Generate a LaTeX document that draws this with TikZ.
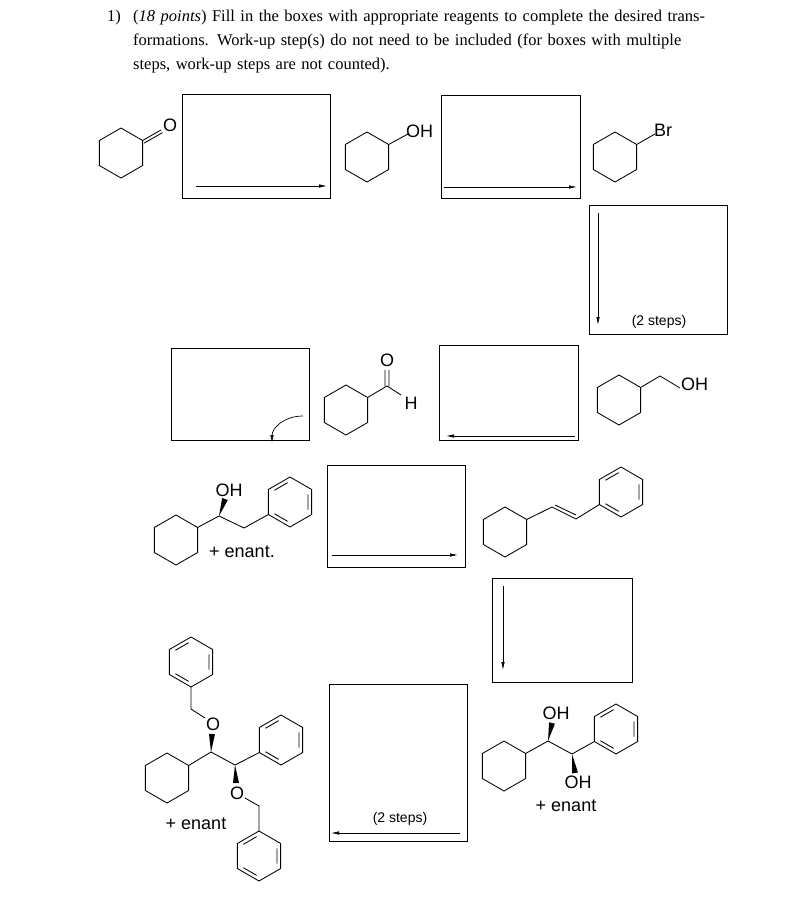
\documentclass[tikz,border=0pt]{standalone}
\usepackage{fontspec}
\setmainfont{Liberation Serif}
\newfontfamily\lsans{Liberation Sans}
\usetikzlibrary{calc,arrows.meta}
\newcommand{\hexring}[3]{\draw[bond] (#1,#2)+(90:#3)--+(150:#3)--+(210:#3)--+(270:#3)--+(330:#3)--+(30:#3)--cycle;}
\newcommand{\benzring}[3]{\hexring{#1}{#2}{#3}
 \draw[bond] (#1,#2)+(97:0.78*#3)--+(143:0.78*#3) (#1,#2)+(217:0.78*#3)--+(263:0.78*#3) (#1,#2)+(337:0.78*#3)--+(23:0.78*#3);}
\newcommand{\wdgbond}[2]{\fill (#1) -- ($(#2)!3pt!90:(#1)$) -- ($(#2)!3pt!-90:(#1)$) -- cycle;}
\begin{document}
\begin{tikzpicture}[x=1pt,y=-1pt,
 bond/.style={line width=0.85pt},
 box/.style={draw,line width=0.9pt},
 rxn/.style={line width=0.7pt,-{Latex[length=8pt,width=3.5pt]}},
 lab/.style={font=\lsans\fontsize{18}{18}\selectfont,inner sep=0pt},
 small/.style={font=\lsans\fontsize{14}{14}\selectfont,inner sep=0pt}]
\useasboundingbox (0,0) rectangle (804,921);
% header
\node[anchor=north west,inner sep=0pt,font=\fontsize{16.5}{24}\selectfont] (num) at (107,10) {1)};
\node[anchor=north west,inner sep=0pt,text width=590pt,align=left,font=\fontsize{16.5}{24}\selectfont] (hdr) at (133,10)
 {\hyphenpenalty=10000 (\textit{18 points}) Fill in the boxes with appropriate reagents to complete the desired transformations. Work-up step(s) do not need to be included (for boxes with multiple steps, work-up steps are not counted).};
% boxes
\draw[box] (182,94) rectangle (330,198);
\coordinate (a1s) at (196,186); \coordinate (a1e) at (327,186); \draw[rxn] (a1s)--(a1e);
\draw[box] (441,95) rectangle (580,198);
\coordinate (a2s) at (444,187); \coordinate (a2e) at (577,187); \draw[rxn] (a2s)--(a2e);
\draw[box] (589,205) rectangle (727,334);
\coordinate (a3s) at (598,213); \coordinate (a3e) at (598,325); \draw[rxn] (a3s)--(a3e);
\node[small] (s1) at (659,322) {(2 steps)};
\draw[box] (171,348) rectangle (309,440);
\coordinate (a4s) at (303,416); \coordinate (a4e) at (272,443);
\draw[rxn] (a4s) .. controls (284,416) and (272,428) .. (a4e);
\draw[box] (439,345) rectangle (578,440);
\coordinate (a5s) at (575,436); \coordinate (a5e) at (446,436); \draw[rxn] (a5s)--(a5e);
\draw[box] (327,465) rectangle (465,567);
\coordinate (a6s) at (332,555); \coordinate (a6e) at (458,555); \draw[rxn] (a6s)--(a6e);
\draw[box] (492,578) rectangle (632,682);
\coordinate (a7s) at (503,586); \coordinate (a7e) at (503,670); \draw[rxn] (a7s)--(a7e);
\draw[box] (329,684) rectangle (467,841);
\coordinate (a8s) at (460,833); \coordinate (a8e) at (331,833); \draw[rxn] (a8s)--(a8e);
\node[small] (s2) at (400,819) {(2 steps)};
% M1 cyclohexanone
\hexring{121}{153}{25}
\draw[bond] (142.6,140.5)--(161,130) (144.1,143.1)--(162.5,132.6);
\node[lab] (o1) at (170,125) {O};
% M2 cyclohexanol
\hexring{367}{157}{25}
\draw[bond] (388.6,144.5)--(408,134);
\node[lab,anchor=west] (oh2) at (406,131) {OH};
% M3 bromide
\hexring{615}{157}{25}
\draw[bond] (636.6,144.5)--(655,134);
\node[lab,anchor=west] (br) at (654,130) {Br};
% M4 alcohol
\hexring{619}{400}{25}
\draw[bond] (640.6,387.5)--(660,376)--(680,388);
\node[lab,anchor=west] (oh4) at (681,384) {OH};
% M5 aldehyde
\hexring{346}{410}{25}
\draw[bond] (367.6,397.5)--(387,386)--(401,395) (385,386)--(385,370) (389,386)--(389,370);
\node[lab] (o5) at (387,360) {O};
\node[lab] (h5) at (411,403) {H};
% M6
\hexring{176}{540}{25}
\draw[bond] (197.6,527.5)--(219,516)--(244,528)--(268.4,514.5);
\wdgbond{219,516}{225,499}
\node[lab] (oh6) at (229,490) {OH};
\benzring{290}{502}{25}
\node[lab] (en6) at (242,552) {+ enant.};
% M7 stilbene
\hexring{505}{532}{25}
\draw[bond] (526.6,519.5)--(552,507)--(576,519)--(599.4,504.5) (555,505)--(576,515);
\benzring{621}{492}{25}
% M8 diol
\hexring{504}{766}{25}
\draw[bond] (525.6,753.5)--(548,741)--(572,754)--(594.4,741.5);
\wdgbond{548,741}{552,723}
\wdgbond{572,754}{575,773}
\node[lab] (oh8a) at (556,713) {OH};
\node[lab] (oh8b) at (578,782) {OH};
\benzring{616}{729}{25}
\node[lab] (en8) at (566,806) {+ enant};
% M9 dibenzyl ether
\hexring{167}{778}{25}
\draw[bond] (188.6,765.5)--(211,752)--(235,765)--(259.4,752.5);
\benzring{281}{740}{25}
\wdgbond{211,752}{212,734}
\node[lab] (o9a) at (213,724) {O};
\draw[bond] (205,718)--(191,709)--(191,687);
\benzring{191}{662}{25}
\wdgbond{235,765}{236,783}
\node[lab] (o9b) at (237,793) {O};
\draw[bond] (245,798)--(259,806)--(259,831);
\benzring{259}{856}{25}
\node[lab] (en9) at (196,824) {+ enant};
\end{tikzpicture}
\end{document}
